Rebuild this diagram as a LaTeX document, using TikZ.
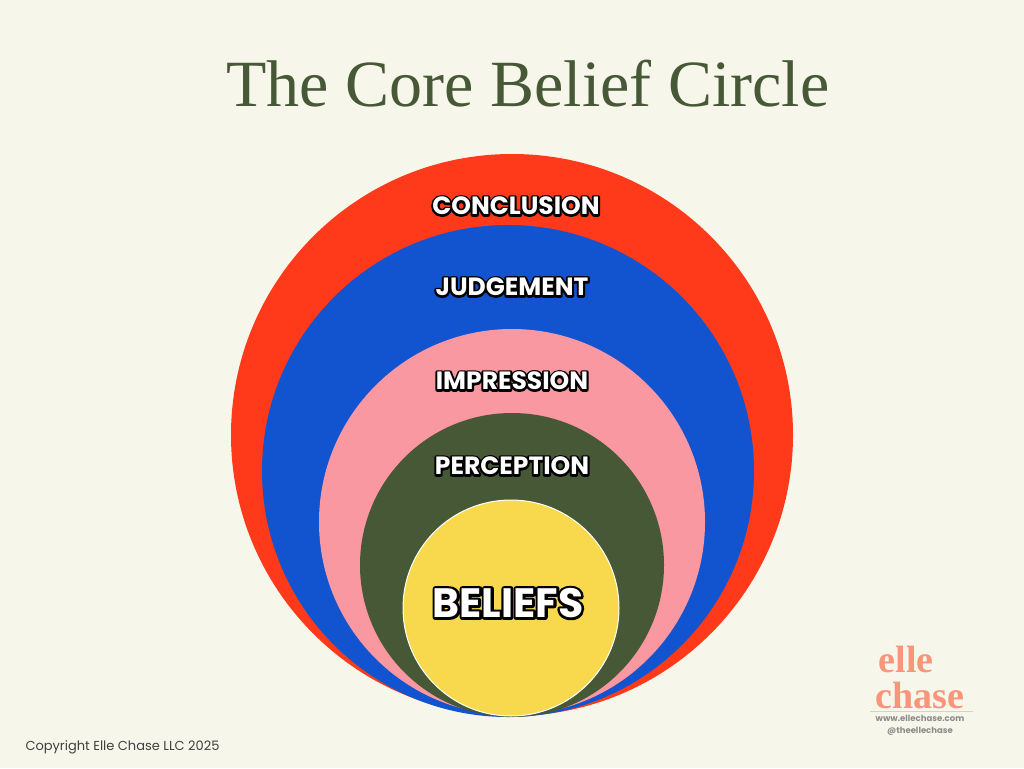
\documentclass[tikz,border=0pt]{standalone}
\usepackage{fontspec}
\setmainfont{Liberation Serif}
\setsansfont{Poppins}
\newfontfamily\lbl{Poppins}
\definecolor{bg}{HTML}{F6F6EA}
\definecolor{cred}{HTML}{FF3A1A}
\definecolor{cblue}{HTML}{1253CF}
\definecolor{cpink}{HTML}{FA98A1}
\definecolor{cgreen}{HTML}{475837}
\definecolor{cyel}{HTML}{F8D94E}
\definecolor{ttl}{HTML}{475837}
\definecolor{logo}{HTML}{F8957A}
\newcommand{\outl}[2]{\rlap{\special{pdf:literal direct 2 Tr #2 w 1 j 0 0 0 RG 0 0 0 rg}#1\special{pdf:literal direct 0 Tr 1 1 1 rg}}#1}
\begin{document}
\begin{tikzpicture}[x=1pt,y=-1pt, lab/.style={font=\lbl\bfseries\fontsize{25}{25}\selectfont, text=white}]
\fill[bg] (0,0) rectangle (1024,768);
\useasboundingbox (0,0) rectangle (1024,768);
\node[font=\fontsize{66}{66}\selectfont, text=ttl] (title) at (528,84) {The Core Belief Circle};
\fill[cred] (512,435) circle (281);
\fill[cblue] (508,471) circle (246);
\fill[cpink] (512,522) circle (193);
\fill[cgreen] (512,565) circle (152);
\draw[fill=cyel, draw=white, line width=1pt] (511,608) circle (108);
\node[lab] (conc) at (516,206) {\outl{CONCLUSION}{4}};
\node[lab] (judg) at (512,287) {\outl{JUDGEMENT}{4}};
\node[lab] (impr) at (512,381) {\outl{IMPRESSION}{4}};
\node[lab] (perc) at (512,466) {\outl{PERCEPTION}{4}};
\node[lab, font=\lbl\bfseries\fontsize{41}{41}\selectfont] (bel) at (508,603) {\outl{BELIEFS}{5}};
\node[font=\sffamily\fontsize{13}{13}\selectfont, text=black!75, anchor=west] (copy) at (22,747) {Copyright Elle Chase LLC 2025};
\node[font=\bfseries\fontsize{38}{38}\selectfont, text=logo, inner sep=0pt] (lg1) at (906,659) {elle};
\node[font=\bfseries\fontsize{38}{38}\selectfont, text=logo, inner sep=0pt] (lg2) at (920,695) {chase};
\draw[cyel, line width=1pt] (870,711) -- (973,711);
\node[font=\sffamily\bfseries\fontsize{8.5}{8.5}\selectfont, text=black!45] (web) at (920,718) {www.ellechase.com};
\node[font=\sffamily\bfseries\fontsize{8.5}{8.5}\selectfont, text=black!45] (ig) at (920,731) {@theellechase};
\end{tikzpicture}
\end{document}
